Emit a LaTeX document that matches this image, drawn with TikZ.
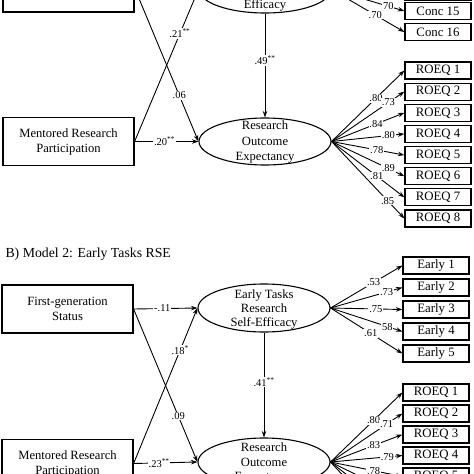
\documentclass[tikz,border=0pt]{standalone}
\usepackage{fontspec}
\setmainfont{Liberation Serif}
\usetikzlibrary{shapes.geometric,arrows.meta}
\begin{document}
\begin{tikzpicture}[x=1pt,y=-1pt,
  obs/.style={draw,line width=1.2pt,rectangle,minimum width=66pt,minimum height=17pt,inner sep=0pt,font=\fontsize{12.8}{14}\selectfont},
  pred/.style={draw,line width=1.2pt,rectangle,minimum width=131pt,minimum height=48pt,inner sep=0pt,align=center,font=\fontsize{12.6}{15}\selectfont},
  latent/.style={draw,ellipse,line width=1.1pt,minimum width=132pt,minimum height=47pt,inner sep=0pt},
  lattext/.style={align=center,font=\fontsize{12.6}{15}\selectfont},
  arr/.style={-{Stealth[length=6.5pt,width=4.5pt]},line width=0.9pt},
  coef/.style={fill=white,inner sep=0.8pt,font=\fontsize{10.5}{11}\selectfont},
]
\useasboundingbox (0,0) rectangle (474,474);
\clip (0,0) rectangle (474,474);
\fill[white] (0,0) rectangle (474,474);

% ---------------- Model A ----------------
\node[pred] (fgA) at (68.5,-12) {};
\node[pred] (mrA) at (68.5,141.5) {Mentored Research\\Participation};
\node[latent] (seA) at (265,-10.5) {};
\node[lattext] (seAt) at (265,5.5) {Efficacy};
\node[latent] (roeA) at (265,141.5) {};
\node[lattext,font=\fontsize{12.6}{15.5}\selectfont] (roeAt) at (265,142) {Research\\Outcome\\Expectancy};

\node[obs] (c14) at (438,-8.5) {};
\node[obs] (c15) at (438,11) {Conc 15};
\node[obs] (c16) at (438,32) {Conc 16};

\foreach \i/\y in {1/70.5,2/91.6,3/112.8,4/133.9,5/155.1,6/176.2,7/197.3,8/218.5}
  \node[obs] (qA\i) at (438,\y) {ROEQ \i};

\draw[arr] (fgA.east) -- node[coef,pos=0.70]{.06} (roeA.west);
\draw[arr] (mrA.east) -- node[coef,pos=0.71]{.21\textsuperscript{**}} (seA.west);
\draw[arr] (mrA.east) -- node[coef,pos=0.47]{.20\textsuperscript{**}} (roeA.west);
\draw[arr] (seA.south) -- node[coef,pos=0.45]{.49\textsuperscript{**}} (roeA.north);

\draw[arr] (seA.east) -- (c14.west);
\draw[arr] (seA.east) -- node[coef,pos=0.78]{70} (c15.west);
\draw[arr] (seA.east) -- node[coef,pos=0.60]{.70} (c16.west);

\foreach \i/\v/\p in {1/.80/0.61,2/.73/0.78,3/.84/0.61,4/.80/0.78,5/.78/0.62,6/.89/0.78,7/.81/0.62,8/.85/0.77}
  \draw[arr] (roeA.east) -- node[coef,pos=\p]{\v} (qA\i.west);

% ---------------- Model B ----------------
\node[anchor=west,font=\fontsize{13.8}{16}\selectfont] (title) at (2,254) {B) Model 2: Early Tasks RSE};

\node[pred] (fgB) at (67.5,309) {First-generation\\Status};
\node[pred] (mrB) at (67.5,463.5) {Mentored Research\\Participation};
\node[latent,minimum height=48pt] (etB) at (264,308) {};
\node[lattext,font=\fontsize{12.6}{14}\selectfont] (etBt) at (264,309) {Early Tasks\\Research\\Self-Efficacy};
\node[latent,minimum height=48pt] (roeB) at (264,462) {};
\node[lattext,font=\fontsize{12.6}{14.5}\selectfont] (roeBt) at (264,463) {Research\\Outcome\\Expectancy};

\foreach \i/\y in {1/265.5,2/287.5,3/309.5,4/331.5,5/353.5}
  \node[obs] (e\i) at (436,\y) {Early \i};
\foreach \i/\y in {1/392.5,2/413.5,3/434.5,4/455.5,5/476.5,6/497.5,7/518.5,8/539.5}
  \node[obs] (qB\i) at (436,\y) {ROEQ \i};

\draw[arr] (fgB.east) -- node[coef,pos=0.45]{-.11} (etB.west);
\draw[arr] (fgB.east) -- node[coef,pos=0.70]{.09} (roeB.west);
\draw[arr] (mrB.east) -- node[coef,pos=0.73]{.18\textsuperscript{*}} (etB.west);
\draw[arr] (mrB.east) -- node[coef,pos=0.40]{.23\textsuperscript{**}} (roeB.west);
\draw[arr] (etB.south) -- node[coef,pos=0.47]{.41\textsuperscript{**}} (roeB.north);

\foreach \i/\v/\p in {1/.53/0.60,2/.73/0.78,3/.75/0.63,4/58/0.79,5/.61/0.56}
  \draw[arr] (etB.east) -- node[coef,pos=\p]{\v} (e\i.west);
\foreach \i/\v/\p in {1/.80/0.60,2/.71/0.78,3/.83/0.60,4/.79/0.79,5/.78/0.60}
  \draw[arr] (roeB.east) -- node[coef,pos=\p]{\v} (qB\i.west);
\foreach \i in {6,7,8}
  \draw[arr] (roeB.east) -- (qB\i.west);
\end{tikzpicture}
\end{document}
